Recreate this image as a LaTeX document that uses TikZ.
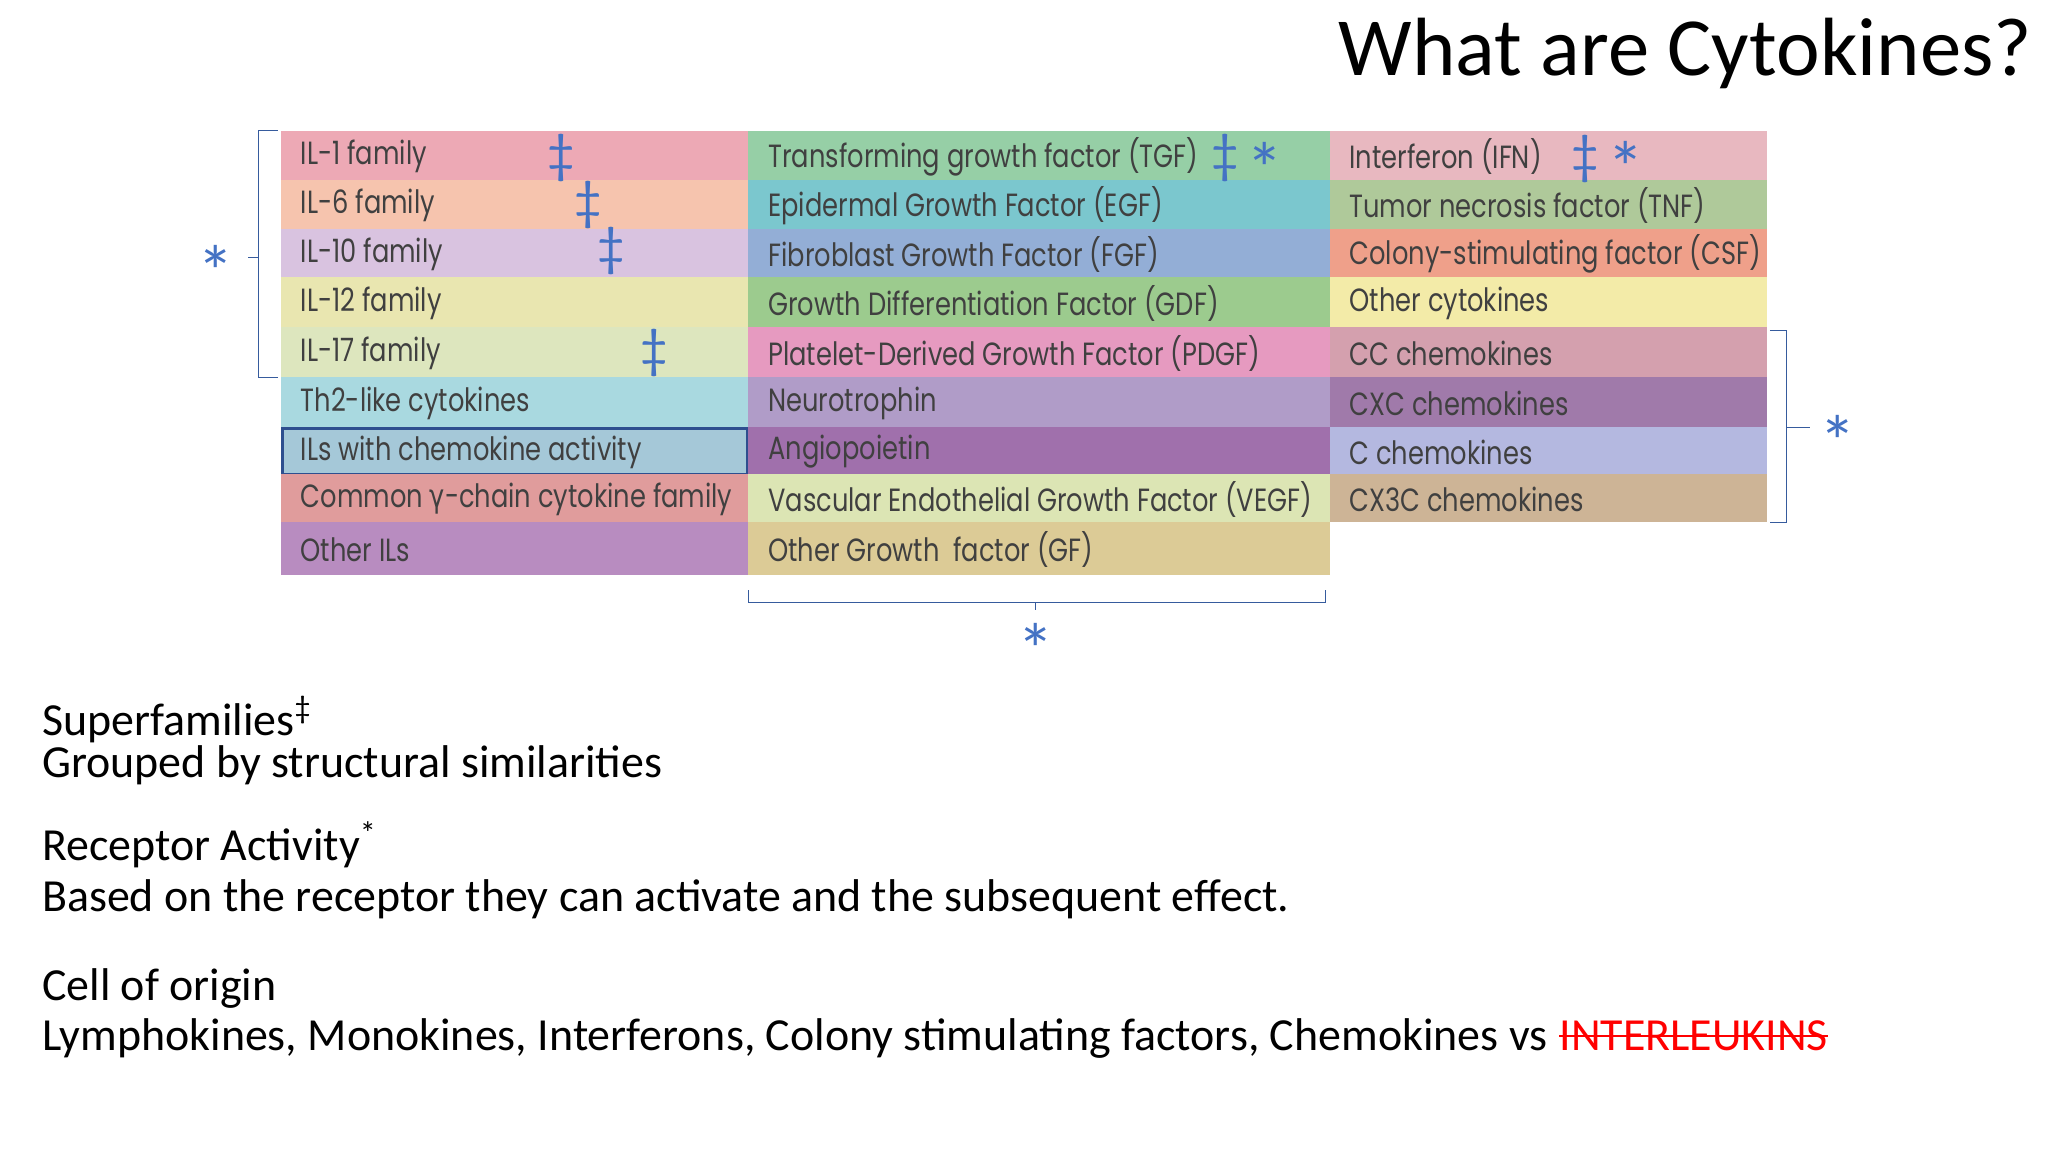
\documentclass[tikz,border=0pt]{standalone}
\usepackage{fontspec}
\setmainfont{Carlito}
\newfontfamily\tabfont[FakeStretch=0.8]{Poppins}
\newfontfamily\gfont[FakeStretch=0.8]{DejaVu Sans}
\definecolor{symb}{HTML}{4472C4}
\tikzset{
 lab/.style={anchor=west,font=\tabfont\fontsize{17.5}{19}\selectfont,text=black!75,inner sep=0},
 dag/.style={text=symb,font=\fontsize{30}{30}\selectfont,inner sep=0},
 ast/.style={text=symb,font=\fontsize{40}{40}\selectfont,inner sep=0},
 body/.style={anchor=base west,font=\fontsize{25}{28}\selectfont,inner sep=0},
 bline/.style={draw=symb!80!black,thin}
}
\begin{document}
\begin{tikzpicture}[x=0.025cm,y=-0.025cm]
\useasboundingbox (0,0) rectangle (1568,882);
\node[anchor=base east,font=\fontsize{45}{48}\selectfont,inner sep=0] (title) at (1556,58) {What are Cytokines?};
\newcommand{\rowitem}[7]{% name,x1,y1,x2,y2,color,text
 \definecolor{cellcol}{HTML}{#6}
 \fill[cellcol] (#2,#3) rectangle (#4,#5);
 \node[lab] (#1) at ({#2+15},{(#3+#5)/2+1}) {#7};}
% column 1
\rowitem{a1}{215}{100}{573}{138}{EDA9B5}{IL-1 family}
\rowitem{a2}{215}{138}{573}{175}{F6C4AE}{IL-6 family}
\rowitem{a3}{215}{175}{573}{212}{D9C3E0}{IL-10 family}
\rowitem{a4}{215}{212}{573}{250}{E9E6B0}{IL-12 family}
\rowitem{a5}{215}{250}{573}{289}{DDE6BE}{IL-17 family}
\rowitem{a6}{215}{289}{573}{327}{A9D9E0}{Th2-like cytokines}
\rowitem{a7}{215}{327}{573}{363}{A5C8D8}{ILs with chemokine activity}
\draw[draw={rgb,255:red,46;green,79;blue,143},line width=1.6pt] (216,328) rectangle (572,363);
\rowitem{a8}{215}{363}{573}{400}{E09C9C}{Common {\gfont γ}-chain cytokine family}
\rowitem{a9}{215}{400}{573}{440}{B88CC0}{Other ILs}
% column 2
\rowitem{b1}{573}{100}{1018}{138}{96CFA6}{Transforming growth factor (TGF)}
\rowitem{b2}{573}{138}{1018}{175}{7BC7CE}{Epidermal Growth Factor (EGF)}
\rowitem{b3}{573}{175}{1018}{212}{93AED6}{Fibroblast Growth Factor (FGF)}
\rowitem{b4}{573}{212}{1018}{250}{9CCB8E}{Growth Differentiation Factor (GDF)}
\rowitem{b5}{573}{250}{1018}{289}{E69AC0}{Platelet-Derived Growth Factor (PDGF)}
\rowitem{b6}{573}{289}{1018}{327}{B09CC8}{Neurotrophin}
\rowitem{b7}{573}{327}{1018}{363}{A070AC}{Angiopoietin}
\rowitem{b8}{573}{363}{1018}{400}{DCE5B4}{Vascular Endothelial Growth Factor (VEGF)}
\rowitem{b9}{573}{400}{1018}{440}{DCCB96}{Other Growth\ \ factor (GF)}
% column 3
\rowitem{c1}{1018}{100}{1353}{138}{E8B8C0}{Interferon (IFN)}
\rowitem{c2}{1018}{138}{1353}{175}{AFC99A}{Tumor necrosis factor (TNF)}
\rowitem{c3}{1018}{175}{1353}{212}{EFA08A}{Colony-stimulating factor (CSF)}
\rowitem{c4}{1018}{212}{1353}{250}{F3EBA8}{Other cytokines}
\rowitem{c5}{1018}{250}{1353}{289}{D4A0AE}{CC chemokines}
\rowitem{c6}{1018}{289}{1353}{327}{A07AAA}{CXC chemokines}
\rowitem{c7}{1018}{327}{1353}{363}{B4B8E0}{C chemokines}
\rowitem{c8}{1018}{363}{1353}{400}{CDB496}{CX3C chemokines}
% symbols
\node[dag] (d1) at (430,121) {‡};
\node[dag] (d2) at (450,157) {‡};
\node[dag] (d3) at (468,192) {‡};
\node[dag] (d5) at (501,270) {‡};
\node[dag] (d6) at (938,121) {‡};
\node[ast] (s6) at (968,129) {*};
\node[dag] (d7) at (1214,122) {‡};
\node[ast] (s7) at (1245,128) {*};
% braces
\draw[bline] (213,289) -- (198,289) -- (198,100) -- (213,100);
\coordinate (lb) at (198,197);
\draw[bline] (lb) -- (190,197);
\node[ast] (s1) at (165,208) {*};
\draw[bline] (1355,253) -- (1368,253) -- (1368,400) -- (1355,400);
\coordinate (rb) at (1368,327);
\draw[bline] (rb) -- (1386,327);
\node[ast] (s2) at (1407,338) {*};
\draw[bline] (573,452) -- (573,461) -- (1015,461) -- (1015,452);
\coordinate (bb) at (793,461);
\draw[bline] (bb) -- (793,467);
\node[ast] (s3) at (793,497) {*};
% body text
\node[body] (h1) at (32,563) {Superfamilies\textsuperscript{‡}};
\node[body] (t1) at (32,595) {Grouped by structural similarities};
\node[body] (h2) at (32,659) {Receptor Activity\textsuperscript{*}};
\node[body] (t2) at (32,698) {Based on the receptor they can activate and the subsequent effect.};
\node[body] (h3) at (32,766) {Cell of origin};
\node[body] (t3) at (32,804) {Lymphokines, Monokines, Interferons, Colony stimulating factors, Chemokines vs};
\node[body,text=red] (t4) at ([xshift=6pt]t3.base east) {INTERLEUKINS};
\draw[red,line width=1pt] ([yshift=-0.5pt]t4.west) -- ([yshift=-0.5pt]t4.east);
\end{tikzpicture}
\end{document}
